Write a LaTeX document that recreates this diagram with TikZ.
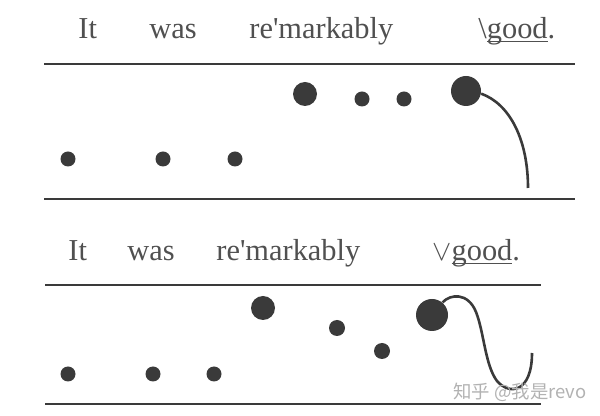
\documentclass[tikz,border=0pt]{standalone}
\usepackage{fontspec}
\setmainfont{Liberation Serif}
\newfontfamily\cjk{Noto Sans CJK SC}
\definecolor{ink}{HTML}{3A3A3A}
\definecolor{txt}{HTML}{505050}
\begin{document}
\begin{tikzpicture}[x=0.5pt,y=-0.5pt]
        \useasboundingbox (0,0) rectangle (600,416);
        \begin{scope}[every node/.style={anchor=base west,inner sep=0pt,text=txt,font=\fontsize{15.2}{18}\selectfont}]
            \node (w1) at (78,39) {It};
            \node (w2) at (149,39) {was};
            \node (w3) at (249,39) {re\textquotesingle markably};
            \node (w4) at (478,39) {\textbackslash\underline{\smash{good}}.};
            \node (v1) at (68,261) {It};
            \node (v2) at (127,261) {was};
            \node (v3) at (216,261) {re\textquotesingle markably};
            \node (v4) at (432,261) {$\vee$\underline{\smash{good}}.};
        \end{scope}
        \begin{scope}[every path/.style={draw=ink,line width=1pt}]
            \path (44,64) -- (575,64);
            \path (44,199) -- (575,199);
            \path (45,285) -- (541,285);
            \path (45,404) -- (541,404);
        \end{scope}
        \begin{scope}[every node/.style={circle,fill=ink,inner sep=0pt,minimum size=7.5pt}]
            \node (t1) at (68,159) {};
            \node (t2) at (163,159) {};
            \node (t3) at (235,159) {};
            \node[minimum size=12pt] (t4) at (305,94) {};
            \node (t5) at (362,99) {};
            \node (t6) at (404,99) {};
            \node[minimum size=15pt] (t7) at (466,91) {};
            \node (b1) at (68,374) {};
            \node (b2) at (153,374) {};
            \node (b3) at (214,374) {};
            \node[minimum size=12pt] (b4) at (263,308) {};
            \node[minimum size=8pt] (b5) at (337,328) {};
            \node[minimum size=8pt] (b6) at (382,351) {};
            \node[minimum size=16pt] (b7) at (432,315) {};
        \end{scope}
        \coordinate (e1) at (528,188);
        \coordinate (e2) at (532,353);
        \begin{scope}[every path/.style={draw=ink,line width=1.3pt}]
            \path (t7.-10) .. controls (510,104) and (528,140) .. (e1);
            \path (b7.50) .. controls (450,294) and (468,292) .. (476,312)
                .. controls (484,332) and (485,365) .. (497,381)
                .. controls (510,396) and (532,392) .. (e2);
        \end{scope}
        \node[anchor=west,inner sep=0pt,text=black!30,font=\cjk\fontsize{9.2}{11}\selectfont] (wm) at (453,392) {知乎 @我是revo};
    \end{tikzpicture}
\end{document}
